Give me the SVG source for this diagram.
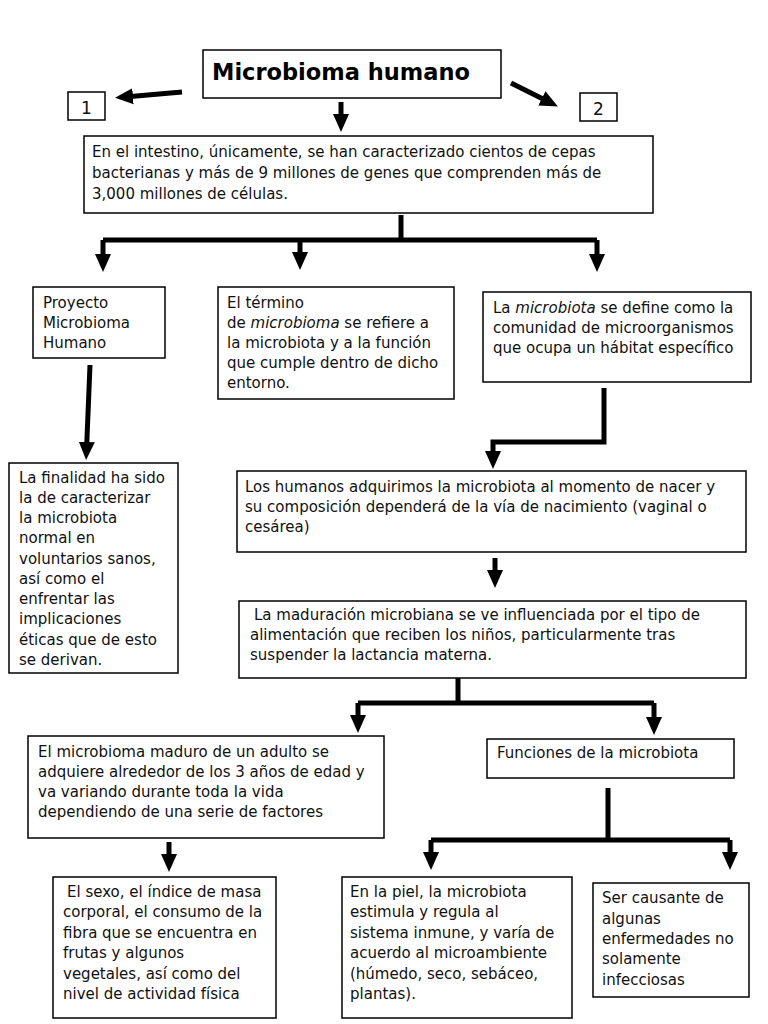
<svg xmlns="http://www.w3.org/2000/svg" width="768" height="1024" viewBox="0 0 768 1024">
<style>
.box{fill:#fff;stroke:#000;stroke-width:1.5}
.t{font-family:"DejaVu Sans",sans-serif;font-size:15px;fill:#111}
.num{font-family:"DejaVu Sans",sans-serif;font-size:17px;fill:#111}
.title{font-family:"DejaVu Sans",sans-serif;font-size:22.5px;font-weight:bold;fill:#000}
.c{fill:none;stroke:#000;stroke-width:5}
</style>
<defs>
<marker id="ah" markerUnits="userSpaceOnUse" markerWidth="18" markerHeight="18" viewBox="0 0 18 18" refX="8" refY="9" orient="auto">
<path d="M0,1 L18,9 L0,17 z" fill="#000"/>
</marker>
</defs>
<rect width="768" height="1024" fill="#fff"/>

<g id="connectors">
<path class="c" d="M182,92 L125,97" marker-end="url(#ah)"/>
<path class="c" d="M511,83 L549,102" marker-end="url(#ah)"/>
<path class="c" d="M341,102 L341,122" marker-end="url(#ah)"/>
<path class="c" d="M401,215 L401,240 M103,240 L597,240"/>
<path class="c" d="M103,240 L103,262" marker-end="url(#ah)"/>
<path class="c" d="M300,240 L300,260" marker-end="url(#ah)"/>
<path class="c" d="M597,240 L597,262" marker-end="url(#ah)"/>
<path class="c" d="M90,365 L86.5,450" marker-end="url(#ah)"/>
<path class="c" d="M604,388 L604,442 L493,442 L493,459" marker-end="url(#ah)"/>
<path class="c" d="M495,558 L495,578" marker-end="url(#ah)"/>
<path class="c" d="M458,678 L458,703 M358,703 L654,703"/>
<path class="c" d="M358,703 L358,723" marker-end="url(#ah)"/>
<path class="c" d="M654,703 L654,725" marker-end="url(#ah)"/>
<path class="c" d="M169,842 L169,862" marker-end="url(#ah)"/>
<path class="c" d="M608,788 L608,840 M431,840 L730,840"/>
<path class="c" d="M431,840 L431,860" marker-end="url(#ah)"/>
<path class="c" d="M730,840 L730,860" marker-end="url(#ah)"/>
</g>

<g id="title">
<rect class="box" x="203" y="50" width="298" height="48"/>
<text class="title" x="212" y="80">Microbioma humano</text>
</g>

<g id="n1">
<rect class="box" x="68" y="92" width="37" height="28"/>
<text class="num" x="81" y="114">1</text>
</g>

<g id="n2">
<rect class="box" x="580" y="93" width="37" height="28"/>
<text class="num" x="593" y="115">2</text>
</g>

<g id="intestino">
<rect class="box" x="84" y="136" width="569" height="77"/>
<text class="t" x="92" y="157">En el intestino, únicamente, se han caracterizado cientos de cepas</text>
<text class="t" x="92" y="178">bacterianas y más de 9 millones de genes que comprenden más de</text>
<text class="t" x="92" y="199">3,000 millones de células.</text>
</g>

<g id="proyecto">
<rect class="box" x="33" y="287" width="132" height="71"/>
<text class="t" x="43" y="308">Proyecto</text>
<text class="t" x="43" y="328">Microbioma</text>
<text class="t" x="43" y="348">Humano</text>
</g>

<g id="termino">
<rect class="box" x="218" y="287" width="236" height="112"/>
<text class="t" x="227" y="308">El término</text>
<text class="t" x="227" y="328">de <tspan font-style="italic">microbioma</tspan> se refiere a</text>
<text class="t" x="227" y="348">la microbiota y a la función</text>
<text class="t" x="227" y="368">que cumple dentro de dicho</text>
<text class="t" x="227" y="388">entorno.</text>
</g>

<g id="microbiota">
<rect class="box" x="483" y="292" width="268" height="90"/>
<text class="t" x="493" y="313">La <tspan font-style="italic">microbiota</tspan> se define como la</text>
<text class="t" x="493" y="333">comunidad de microorganismos</text>
<text class="t" x="493" y="353">que ocupa un hábitat específico</text>
</g>

<g id="finalidad">
<rect class="box" x="9" y="463" width="169" height="210"/>
<text class="t" x="19" y="483">La finalidad ha sido</text>
<text class="t" x="19" y="503">la de caracterizar</text>
<text class="t" x="19" y="523">la microbiota</text>
<text class="t" x="19" y="543">normal en</text>
<text class="t" x="19" y="564">voluntarios sanos,</text>
<text class="t" x="19" y="584">así como el</text>
<text class="t" x="19" y="604">enfrentar las</text>
<text class="t" x="19" y="624">implicaciones</text>
<text class="t" x="19" y="645">éticas que de esto</text>
<text class="t" x="19" y="665">se derivan.</text>
</g>

<g id="humanos">
<rect class="box" x="237" y="471" width="509" height="81"/>
<text class="t" x="245" y="492">Los humanos adquirimos la microbiota al momento de nacer y</text>
<text class="t" x="245" y="512">su composición dependerá de la vía de nacimiento (vaginal o</text>
<text class="t" x="245" y="532">cesárea)</text>
</g>

<g id="maduracion">
<rect class="box" x="239" y="601" width="507" height="77"/>
<text class="t" x="254" y="620">La maduración microbiana se ve influenciada por el tipo de</text>
<text class="t" x="250" y="640">alimentación que reciben los niños, particularmente tras</text>
<text class="t" x="250" y="660">suspender la lactancia materna.</text>
</g>

<g id="adulto">
<rect class="box" x="28" y="736" width="356" height="102"/>
<text class="t" x="38" y="757">El microbioma maduro de un adulto se</text>
<text class="t" x="38" y="777">adquiere alrededor de los 3 años de edad y</text>
<text class="t" x="38" y="797">va variando durante toda la vida</text>
<text class="t" x="38" y="817">dependiendo de una serie de factores</text>
</g>

<g id="funciones">
<rect class="box" x="487" y="739" width="247" height="39"/>
<text class="t" x="497" y="758">Funciones de la microbiota</text>
</g>

<g id="sexo">
<rect class="box" x="53" y="877" width="223" height="141"/>
<text class="t" x="67" y="897">El sexo, el índice de masa</text>
<text class="t" x="63" y="917">corporal, el consumo de la</text>
<text class="t" x="63" y="938">fibra que se encuentra en</text>
<text class="t" x="63" y="958">frutas y algunos</text>
<text class="t" x="63" y="979">vegetales, así como del</text>
<text class="t" x="63" y="999">nivel de actividad física</text>
</g>

<g id="piel">
<rect class="box" x="342" y="877" width="230" height="141"/>
<text class="t" x="350" y="897">En la piel, la microbiota</text>
<text class="t" x="350" y="917">estimula y regula al</text>
<text class="t" x="350" y="938">sistema inmune, y varía de</text>
<text class="t" x="350" y="958">acuerdo al microambiente</text>
<text class="t" x="350" y="979">(húmedo, seco, sebáceo,</text>
<text class="t" x="350" y="999">plantas).</text>
</g>

<g id="causante">
<rect class="box" x="593" y="883" width="156" height="114"/>
<text class="t" x="602" y="903">Ser causante de</text>
<text class="t" x="602" y="924">algunas</text>
<text class="t" x="602" y="944">enfermedades no</text>
<text class="t" x="602" y="964">solamente</text>
<text class="t" x="602" y="985">infecciosas</text>
</g>
</svg>
